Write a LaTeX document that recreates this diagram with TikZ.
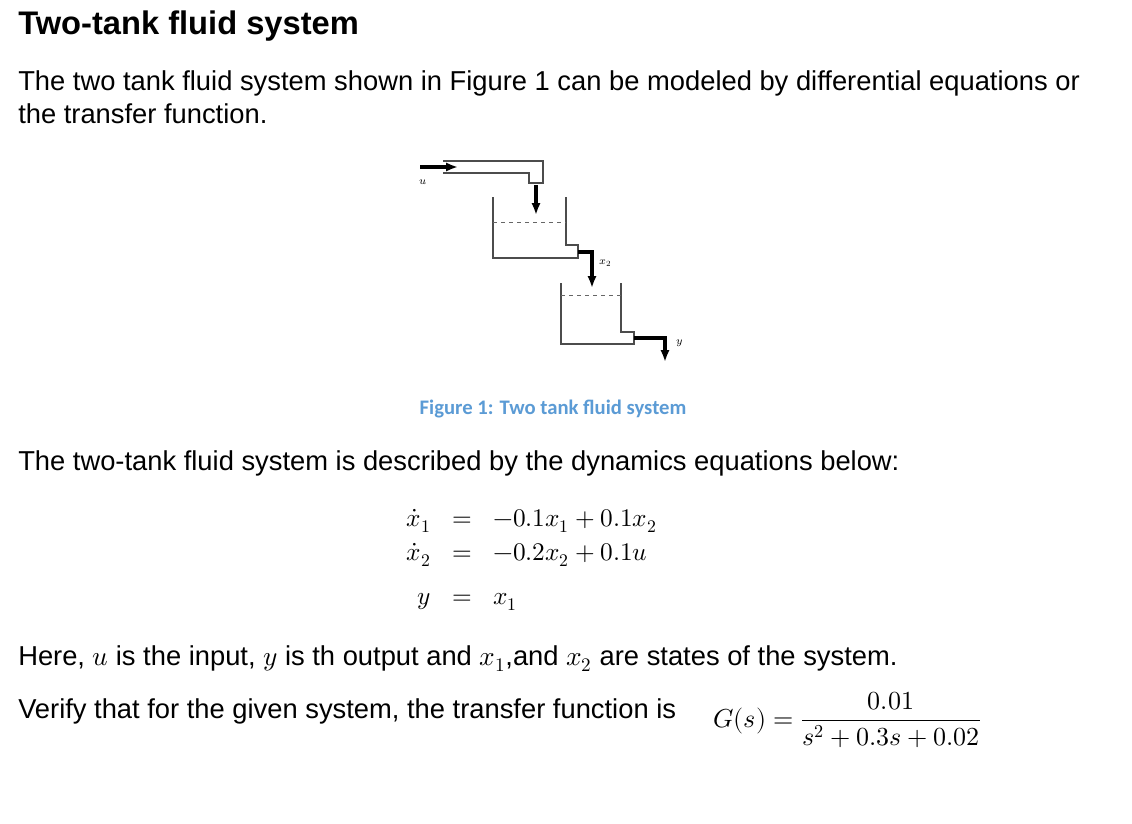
\documentclass[tikz,border=0pt]{standalone}
\usetikzlibrary{arrows.meta}
\usepackage{fontspec}
\setmainfont{Liberation Sans}
\newfontfamily\capfont{Carlito}
\usepackage{amsmath}
\usepackage{unicode-math}
\setmathfont{Latin Modern Math}
\begin{document}
\begin{tikzpicture}[x=0.75pt,y=-0.75pt,
  txt/.style={anchor=base west,inner sep=0,font=\fontsize{20.5}{24}\selectfont},
  wall/.style={draw=black!70,line width=0.9pt},
  flow/.style={line width=2.6pt,-{Latex[length=9pt,width=7pt]}},
  lvl/.style={draw=black!60,dashed,line width=0.6pt}]
\useasboundingbox[fill=white] (0,0) rectangle (1132,824);
\node[anchor=base west,inner sep=0,font=\bfseries\fontsize{24.5}{28}\selectfont] (title) at (18,35) {Two-tank fluid system};
\node[txt] (p1) at (18,90) {The two tank fluid system shown in Figure 1 can be modeled by differential equations or};
\node[txt] (p2) at (18,123) {the transfer function.};
% pipe
\draw[wall] (443,161) -- (543,161) -- (543,183) -- (529,183) -- (529,173) -- (443,173);
\draw[flow] (420,167) -- (458,167);
\node[font=\fontsize{8}{8}\selectfont] (u) at (423,182) {$u$};
\draw[flow] (536,185) -- (536,215);
% tank 1
\draw[wall] (493,197) -- (493,258) -- (578,258) -- (578,245) -- (566,245) -- (566,197);
\draw[lvl] (493,222) -- (566,222);
\draw[flow] (578,252) -- (592,252) -- (592,288);
\node[font=\fontsize{8}{8}\selectfont] (x2) at (606,263) {$x_2$};
% tank 2
\draw[wall] (561,283) -- (561,344) -- (634,344) -- (634,332) -- (621,332) -- (621,283);
\draw[lvl] (561,295) -- (621,295);
\draw[flow] (634,338) -- (665,338) -- (665,362);
\node[font=\fontsize{8}{8}\selectfont] (y) at (680,343) {$y$};
\node[font=\capfont\bfseries\fontsize{15.5}{18}\selectfont,text={rgb,255:red,91;green,155;blue,213}] (cap) at (553,409) {Figure 1: Two tank fluid system};
\node[txt] (p3) at (18,470) {The two-tank fluid system is described by the dynamics equations below:};
\node[anchor=north west,inner sep=0,font=\fontsize{19}{23}\selectfont] (eq) at (400,505)
 {$\begin{array}{r@{\hspace{16pt}}c@{\hspace{16pt}}l}
 \dot{x}_1 & = & -0.1x_1+0.1x_2\\[2pt]
 \dot{x}_2 & = & -0.2x_2+0.1u\\[10pt]
 y & = & x_1
 \end{array}$};
\node[txt] (p4) at (18,665) {Here, $u$ is the input, $y$ is th output and $x_1$,and $x_2$ are states of the system.};
\node[txt] (p5) at (18,718) {Verify that for the given system, the transfer function is};
\node[anchor=west,inner sep=0,font=\fontsize{19.5}{23}\selectfont] (G) at (713,720) {$G(s)=\dfrac{0.01}{s^2+0.3s+0.02}$};
\end{tikzpicture}
\end{document}
